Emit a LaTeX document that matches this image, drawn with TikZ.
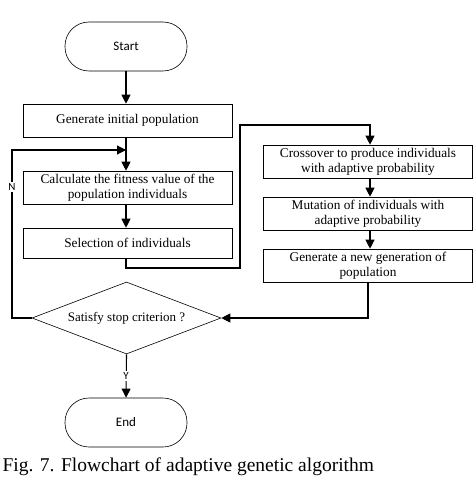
\documentclass[tikz,border=0pt]{standalone}
\usepackage{fontspec}
\setmainfont{Liberation Serif}
\newfontfamily\calfont{Carlito}
\usetikzlibrary{arrows.meta,shapes.geometric}
\begin{document}
\begin{tikzpicture}[x=1pt,y=-1pt,
  line width=1.1pt,
  box/.style={draw,line width=0.6pt,minimum width=209pt,inner sep=0pt,align=center,font=\fontsize{13.3}{15}\selectfont},
  term/.style={draw,line width=0.6pt,rounded corners=24pt,minimum width=122pt,minimum height=49pt,inner sep=0pt,font=\calfont\fontsize{13}{14}\selectfont},
  arr/.style={-{Triangle[length=9pt,width=9pt]}},
  lbl/.style={fill=white,inner sep=1pt,font=\calfont\fontsize{11}{12}\selectfont}]
\useasboundingbox (0,0) rectangle (474,481);
\node[term] (start) at (126,46.5) {Start};
\node[box,minimum height=33pt] (gen) at (127.5,120.5) {Generate initial population};
\node[box,minimum height=33pt] (calc) at (127.5,187.5) {Calculate the fitness value of the\\population individuals};
\node[box,minimum height=30pt] (sel) at (127.5,243) {Selection of individuals};
\node[box,minimum height=33pt] (cross) at (368,161.5) {Crossover to produce individuals\\with adaptive probability};
\node[box,minimum height=33pt] (mut) at (368,213.5) {Mutation of individuals with\\adaptive probability};
\node[box,minimum height=33pt] (newgen) at (368,265.5) {Generate a new generation of\\population};
\node[draw,line width=0.6pt,diamond,aspect=2.625,minimum width=189pt,minimum height=72pt,inner sep=0pt,font=\fontsize{13}{14}\selectfont] (dec) at (126.5,318) {Satisfy stop criterion ?};
\node[term] (end) at (126,422.5) {End};
\coordinate (join) at (126,150);
\draw[arr] (start.south -| 126,0) -- (gen.north -| 126,0);
\draw[arr] (gen.south -| 126,0) -- (calc.north -| 126,0);
\draw[arr] (calc.south -| 126,0) -- (sel.north -| 126,0);
\draw[arr] (sel.south -| 126,0) -- (126,268) -- (240,268) -- (240,125) -- (370,125) -- (cross.north -| 370,0);
\draw[arr] (cross.south -| 370,0) -- (mut.north -| 370,0);
\draw[arr] (mut.south -| 370,0) -- (newgen.north -| 370,0);
\draw[arr] (newgen.south -| 368,0) -- (368,318) -- (dec.east);
\draw[arr] (dec.west) -- (12,318) -- (12,150) -- (join);
\node[lbl] (nl) at (12,187) {N};
\draw[arr] (dec.south) -- (end.north);
\node[lbl] (yl) at (126,376) {Y};
\node[anchor=base west,inner sep=0pt,font=\fontsize{19.5}{22}\selectfont] (cap) at (2,471) {Fig. 7. Flowchart of adaptive genetic algorithm};
\end{tikzpicture}
\end{document}
